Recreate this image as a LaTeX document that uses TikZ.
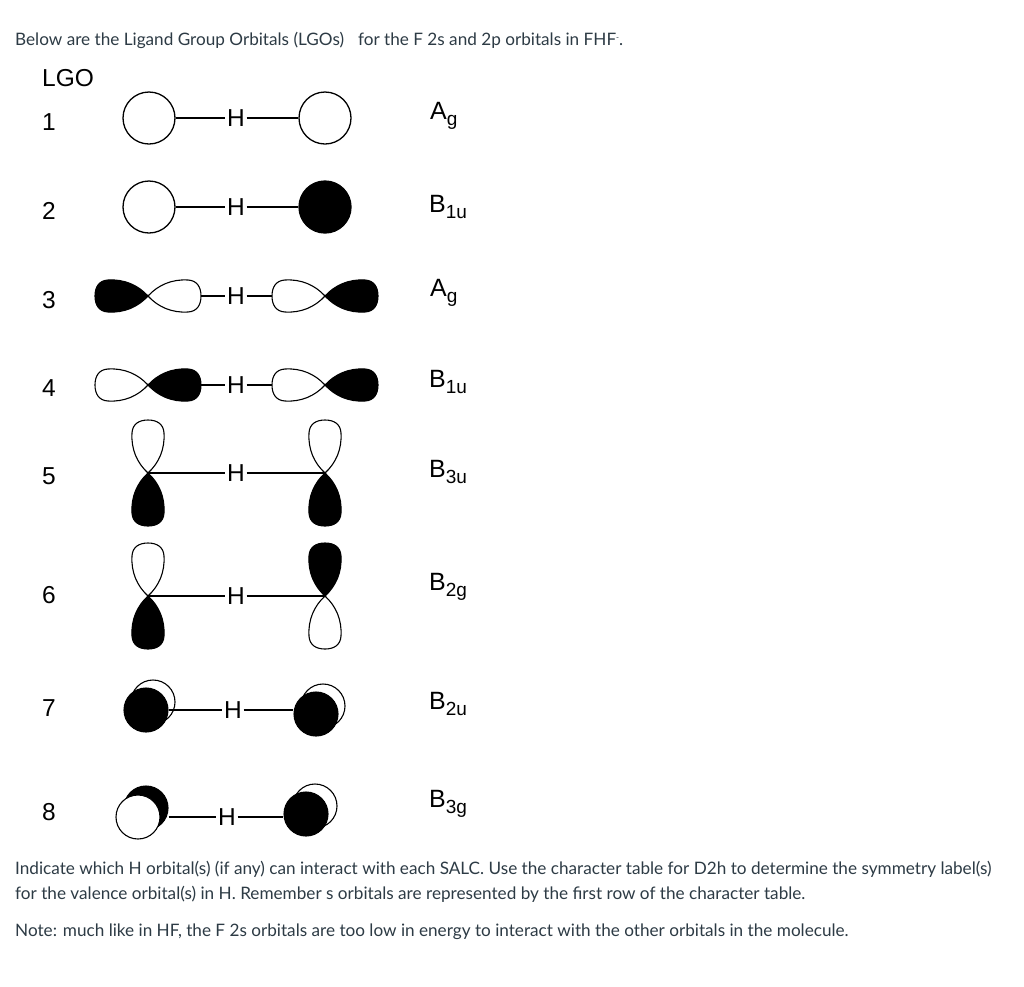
\documentclass[tikz,border=0pt]{standalone}
\usepackage{fontspec}
\setmainfont{Lato}
\newfontfamily\arialf{Liberation Sans}
\definecolor{canvas}{HTML}{2D3B45}
\newcommand{\biglab}[2]{{\fontsize{25}{28}\selectfont #1\raisebox{-6pt}{\fontsize{19}{21}\selectfont #2}}}
\tikzset{
  every picture/.style={x=1pt,y=-1pt},
  para/.style={anchor=west,text=canvas,font=\fontsize{17.16}{20}\selectfont,inner sep=0pt},
  lab/.style={anchor=center,text=black,font=\arialf\fontsize{24.5}{27}\selectfont,inner sep=0pt},
  sym/.style={anchor=west,text=black,font=\arialf,inner sep=0pt},
  hatom/.style={text=black,font=\arialf\fontsize{24.5}{26}\selectfont,inner sep=1.5pt},
  bond/.style={draw=black,line width=1.1pt},
  orb/.style={circle,draw=black,line width=1.3pt,inner sep=0pt,minimum size=52pt},
  porb/.style={circle,draw=black,line width=1.1pt,inner sep=0pt,minimum size=44pt},
  wh/.style={fill=white},
  bk/.style={fill=black},
  lobeline/.style={draw=black,line width=1.1pt}
}
\newcommand{\lobe}[4]{%
  \begin{scope}[shift={(#1,#2)},rotate=#3]
    \path[lobeline,#4] (0,0) .. controls (10,-11) and (24,-17) .. (40,-16)
      .. controls (49,-15.5) and (53,-9) .. (53,0)
      .. controls (53,9) and (49,15.5) .. (40,16)
      .. controls (24,17) and (10,11) .. (0,0) -- cycle;
  \end{scope}}
\begin{document}
\begin{tikzpicture}
\useasboundingbox (0,0) rectangle (1024,986);
\fill[white] (0,0) rectangle (1024,986);

\node[para] (t1) at (15,40) {Below are the Ligand Group Orbitals (LGOs)\;\; for the F 2s and 2p orbitals in FHF\raisebox{5pt}{\fontsize{8}{9}\selectfont -}.};
\node[para] (t2) at (15,869) {Indicate which H orbital(s) (if any) can interact with each SALC. Use the character table for D2h to determine the symmetry label(s)};
\node[para] (t3) at (15,894) {for the valence orbital(s) in H. Remember s orbitals are represented by the first row of the character table.};
\node[para] (t4) at (15,932) {Note: much like in HF, the F 2s orbitals are too low in energy to interact with the other orbitals in the molecule.};

\node[lab] (lgo) at (68,78) {LGO};
\node[lab] (n1) at (49,122) {1};
\node[lab] (n2) at (49,211) {2};
\node[lab] (n3) at (49,300) {3};
\node[lab] (n4) at (49,388) {4};
\node[lab] (n5) at (49,476) {5};
\node[lab] (n6) at (49,595) {6};
\node[lab] (n7) at (49,708) {7};
\node[lab] (n8) at (49,812) {8};

\node[sym] (s1) at (430,116) {\biglab{A}{g}};
\node[sym] (s2) at (429,207) {\biglab{B}{1u}};
\node[sym] (s3) at (430,293) {\biglab{A}{g}};
\node[sym] (s4) at (429,382) {\biglab{B}{1u}};
\node[sym] (s5) at (429,472) {\biglab{B}{3u}};
\node[sym] (s6) at (429,587) {\biglab{B}{2g}};
\node[sym] (s7) at (429,704) {\biglab{B}{2u}};
\node[sym] (s8) at (429,804) {\biglab{B}{3g}};

% row 1
\node[hatom] (h1) at (236,118) {H};
\node[orb,wh] (a1) at (149,118) {};
\node[orb,wh] (b1) at (325,118) {};
\draw[bond] (a1) -- (h1); \draw[bond] (h1) -- (b1);
% row 2
\node[hatom] (h2) at (236,207) {H};
\node[orb,wh] (a2) at (149,207) {};
\node[orb,bk] (b2) at (325,207) {};
\draw[bond] (a2) -- (h2); \draw[bond] (h2) -- (b2);
% row 3
\lobe{148}{296}{180}{bk}\lobe{148}{296}{0}{wh}
\lobe{325}{296}{180}{wh}\lobe{325}{296}{0}{bk}
\node[hatom] (h3) at (236,296) {H};
\coordinate (a3) at (201,296);
\coordinate (b3) at (272,296);
\draw[bond] (a3) -- (h3); \draw[bond] (h3) -- (b3);
% row 4
\lobe{148}{385}{180}{wh}\lobe{148}{385}{0}{bk}
\lobe{325}{385}{180}{wh}\lobe{325}{385}{0}{bk}
\node[hatom] (h4) at (236,385) {H};
\coordinate (a4) at (201,385);
\coordinate (b4) at (272,385);
\draw[bond] (a4) -- (h4); \draw[bond] (h4) -- (b4);
% row 5
\lobe{148}{473}{90}{wh}\lobe{148}{473}{-90}{bk}
\lobe{325}{473}{90}{wh}\lobe{325}{473}{-90}{bk}
\node[hatom] (h5) at (236,473) {H};
\coordinate (a5) at (148,473);
\coordinate (b5) at (325,473);
\draw[bond] (a5) -- (h5); \draw[bond] (h5) -- (b5);
% row 6
\lobe{148}{596}{90}{wh}\lobe{148}{596}{-90}{bk}
\lobe{325}{596}{90}{bk}\lobe{325}{596}{-90}{wh}
\node[hatom] (h6) at (236,596) {H};
\coordinate (a6) at (148,596);
\coordinate (b6) at (325,596);
\draw[bond] (a6) -- (h6); \draw[bond] (h6) -- (b6);
% row 7
\node[porb,wh] (a7w) at (153,702) {};
\node[porb,bk] (a7) at (146,710) {};
\node[porb,wh] (b7w) at (323,706) {};
\node[porb,bk] (b7) at (316,714) {};
\node[hatom] (h7) at (233,710) {H};
\draw[bond] (a7.east |- h7) -- (h7.west);
\draw[bond] (h7.east) -- (b7.west |- h7);
% row 8
\node[porb,bk] (a8b) at (146,808) {};
\node[porb,wh] (a8) at (138,817) {};
\node[porb,wh] (b8w) at (315,806) {};
\node[porb,bk] (b8) at (306,814) {};
\node[hatom] (h8) at (227,817) {H};
\draw[bond] (a8b.east |- h8) -- (h8.west);
\draw[bond] (h8.east) -- (b8.west |- h8);
\end{tikzpicture}
\end{document}
